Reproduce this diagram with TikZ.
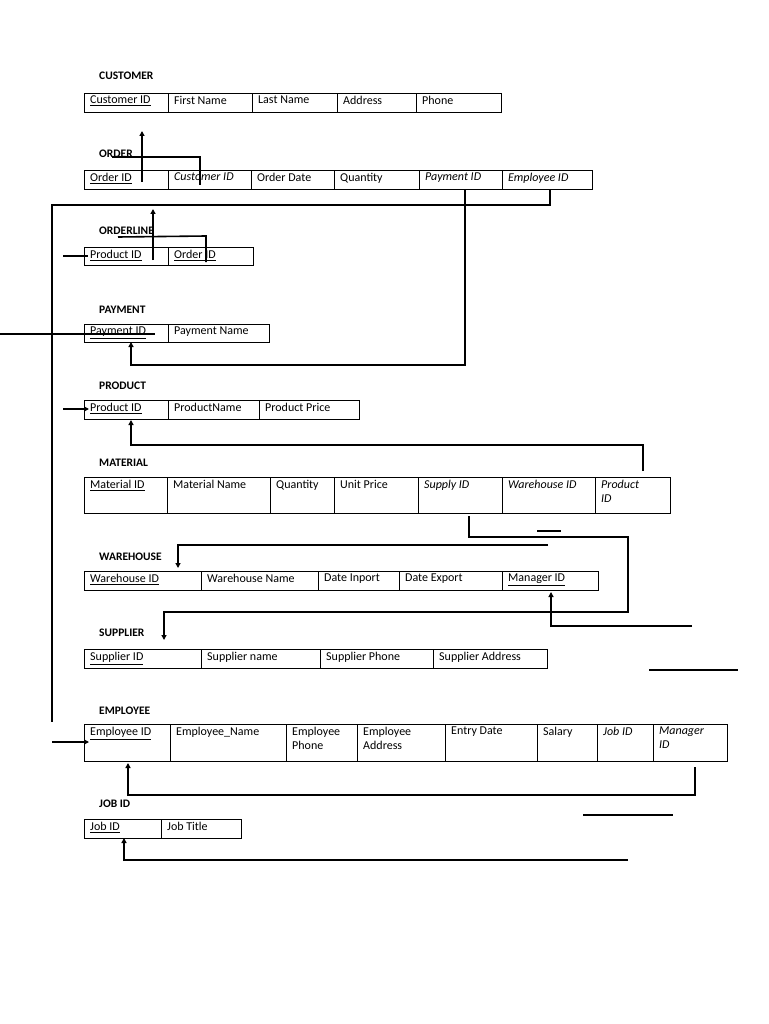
\documentclass[tikz,border=0pt]{standalone}
\usepackage{fontspec}
\setmainfont{Carlito}
\usetikzlibrary{arrows.meta}
\newcommand{\cellbox}[5]{\draw[cellline] (#1,#3) rectangle (#2,#4); \node[celltext] at (#1,#3) {#5};}
\newcommand{\ttl}[2]{\node[titletext] at (99,#1) {#2};}
\begin{document}
\begin{tikzpicture}[x=1pt,y=-1pt,
 cellline/.style={line width=0.9pt},
 celltext/.style={anchor=north west,inner sep=0pt,xshift=6pt,yshift=-3pt,font=\fontsize{12}{13}\selectfont,align=left},
 titletext/.style={anchor=west,inner sep=0pt,font=\bfseries\fontsize{11.5}{12}\selectfont},
 rel/.style={line width=1.6pt},
 arr/.style={line width=1.6pt,-{Triangle[length=5pt,width=5pt]}}]
\useasboundingbox[fill=white] (0,0) rectangle (768,1024);
% CUSTOMER
\ttl{76}{CUSTOMER}
\cellbox{84}{168}{93}{112}{\underline{Customer ID}}
\cellbox{168}{252}{93}{112}{First Name}
\cellbox{252}{337}{93}{112}{Last Name}
\cellbox{337}{416}{93}{112}{Address}
\cellbox{416}{501}{93}{112}{Phone}
% ORDER
\ttl{154}{ORDER}
\cellbox{84}{168}{170}{189}{\underline{Order ID}}
\cellbox{168}{251}{170}{189}{\itshape Customer ID}
\cellbox{251}{334}{170}{189}{Order Date}
\cellbox{334}{419}{170}{189}{Quantity}
\cellbox{419}{502}{170}{189}{\itshape Payment ID}
\cellbox{502}{592}{170}{189}{\itshape Employee ID}
% ORDERLINE
\ttl{231}{ORDERLINE}
\cellbox{84}{168}{247}{265}{\underline{Product ID}}
\cellbox{168}{253}{247}{265}{\underline{Order ID}}
% PAYMENT
\ttl{310}{PAYMENT}
\cellbox{84}{168}{324}{342}{\underline{Payment ID}}
\cellbox{168}{269}{324}{342}{Payment Name}
% PRODUCT
\ttl{386}{PRODUCT}
\cellbox{84}{168}{400}{419}{\underline{Product ID}}
\cellbox{168}{259}{400}{419}{ProductName}
\cellbox{259}{359}{400}{419}{Product Price}
% MATERIAL
\ttl{463}{MATERIAL}
\cellbox{84}{167}{477}{513}{\underline{Material ID}}
\cellbox{167}{270}{477}{513}{Material Name}
\cellbox{270}{334}{477}{513}{Quantity}
\cellbox{334}{418}{477}{513}{Unit Price}
\cellbox{418}{502}{477}{513}{\itshape Supply ID}
\cellbox{502}{595}{477}{513}{\itshape Warehouse ID}
\cellbox{595}{670}{477}{513}{\itshape Product\\[1pt]\itshape ID}
% WAREHOUSE
\ttl{557}{WAREHOUSE}
\cellbox{84}{201}{571}{590}{\underline{Warehouse ID}}
\cellbox{201}{318}{571}{590}{Warehouse Name}
\cellbox{318}{399}{571}{590}{Date Inport}
\cellbox{399}{502}{571}{590}{Date Export}
\cellbox{502}{598}{571}{590}{\underline{Manager ID}}
% SUPPLIER
\ttl{633}{SUPPLIER}
\cellbox{84}{201}{649}{668}{\underline{Supplier ID}}
\cellbox{201}{320}{649}{668}{Supplier name}
\cellbox{320}{433}{649}{668}{Supplier Phone}
\cellbox{433}{547}{649}{668}{Supplier Address}
% EMPLOYEE
\ttl{711}{EMPLOYEE}
\cellbox{84}{170}{724}{761}{\underline{Employee ID}}
\cellbox{170}{286}{724}{761}{Employee\_Name}
\cellbox{286}{357}{724}{761}{Employee\\[1pt]Phone}
\cellbox{357}{445}{724}{761}{Employee\\[1pt]Address}
\cellbox{445}{537}{724}{761}{Entry Date}
\cellbox{537}{597}{724}{761}{Salary}
\cellbox{597}{653}{724}{761}{\itshape Job ID}
\cellbox{653}{727}{724}{761}{\itshape Manager\\[1pt]\itshape ID}
% JOB ID
\ttl{804}{JOB ID}
\cellbox{84}{161}{819}{838}{\underline{Job ID}}
\cellbox{161}{241}{819}{838}{Job Title}
% connectors
\draw[arr] (142,182) -- (142,131);
\draw[rel] (112,157) -- (200,157) -- (200,185);
\draw[arr] (153,260) -- (153,209);
\draw[rel] (118,237) -- (206,236) -- (206,262);
\draw[rel] (63,256) -- (88,256);
\draw[rel] (550,190) -- (550,205) -- (52,205) -- (52,722);
\draw[arr] (52,742) -- (89,742);
\draw[rel] (465,190) -- (465,365) -- (131,365);
\draw[arr] (131,366) -- (131,342);
\draw[rel] (0,334) -- (155,334);
\draw[arr] (63,409) -- (89,409);
\draw[rel] (643,471) -- (643,445) -- (131,445);
\draw[arr] (131,446) -- (131,420);
\draw[rel] (548,545) -- (178,545);
\draw[arr] (178,544) -- (178,568);
\draw[rel] (469,516) -- (469,537) -- (628,537) -- (628,612) -- (164,612);
\draw[arr] (164,611) -- (164,640);
\draw[rel] (692,626) -- (551,626);
\draw[arr] (551,627) -- (551,592);
\draw[rel] (537,531) -- (561,531);
\draw[rel] (649,670) -- (738,670);
\draw[rel] (583,815) -- (673,815);
\draw[rel] (695,767) -- (695,795) -- (128,795);
\draw[arr] (128,796) -- (128,763);
\draw[rel] (628,860) -- (124,860);
\draw[arr] (124,861) -- (124,838);
\end{tikzpicture}
\end{document}
